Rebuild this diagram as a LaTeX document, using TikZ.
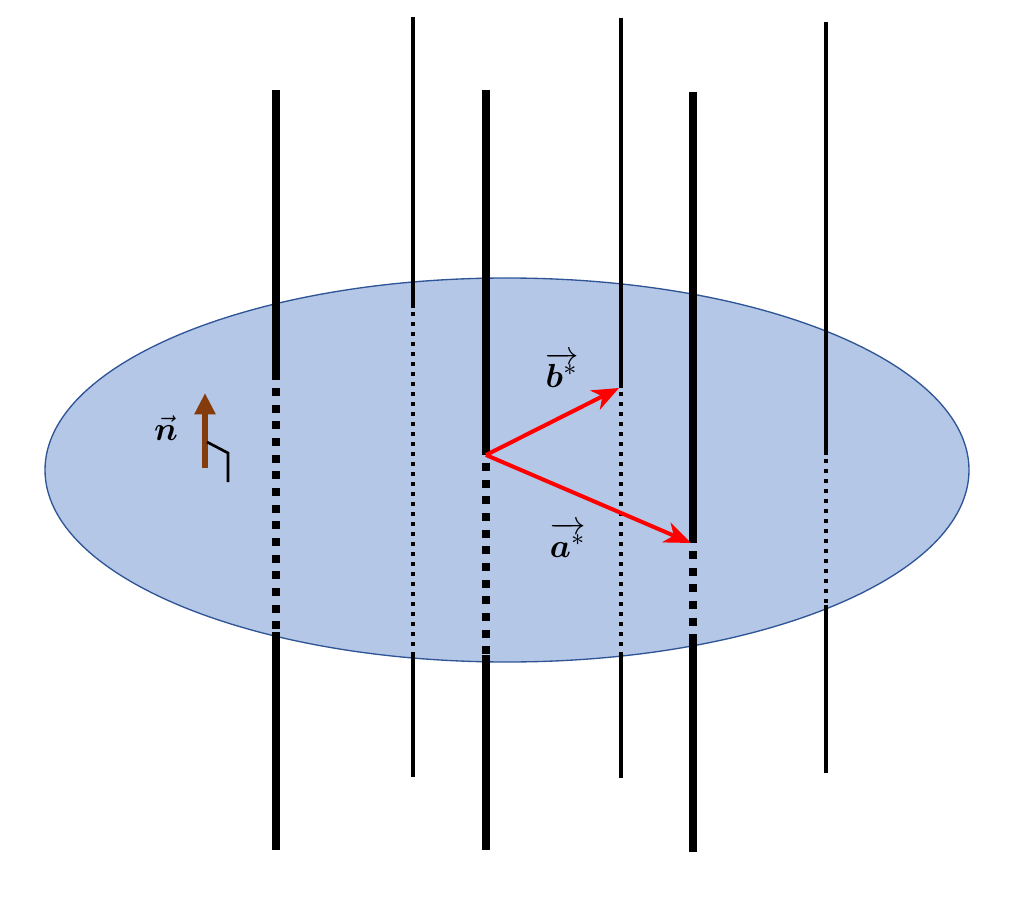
\documentclass[tikz,border=0pt]{standalone}
\usepackage{amsmath,bm}
\usetikzlibrary{arrows.meta}
\definecolor{brn}{RGB}{132,60,12}
\definecolor{fillb}{RGB}{180,199,231}
\definecolor{edgeb}{RGB}{47,85,151}
\begin{document}
\begin{tikzpicture}[x=0.75pt,y=-0.75pt,
 thk/.style={line width=6pt},
 thn/.style={line width=2.6pt},
 thkd/.style={line width=6pt,dash pattern=on 6pt off 6.5pt},
 thnd/.style={line width=2.6pt,dash pattern=on 3pt off 4.5pt},
 vec/.style={red,line width=3pt,-{Stealth[length=20pt,width=16pt,inset=6pt]}},
 lbl/.style={scale=2.5}]
\useasboundingbox (0,0) rectangle (1024,898);
\draw[fill=fillb,draw=edgeb,line width=1pt] (507,470) ellipse [x radius=462, y radius=192];
% thick lines
\foreach \x/\t/\a/\b/\e in {276/90/380/632/850, 486/90/455/655/850, 693/92/543/640/852}{
 \draw[thk] (\x,\t) -- (\x,\a);
 \draw[thkd] (\x,\a+8) -- (\x,\b);
 \draw[thk] (\x,\b) -- (\x,\e);
}
\foreach \x/\t/\a/\b/\e in {413/17/308/652/777, 621/18/388/652/778, 826/22/455/605/773}{
 \draw[thn] (\x,\t) -- (\x,\a);
 \draw[thnd] (\x,\a+4) -- (\x,\b);
 \draw[thn] (\x,\b) -- (\x,\e);
}
\coordinate (o) at (486,455);
\coordinate (b) at (619,388);
\coordinate (a) at (691,543);
\draw[vec] (o) -- (b);
\draw[vec] (o) -- (a);
\node[lbl] (lb) at (562,370) {$\overrightarrow{\bm{b}^{*}}$};
\node[lbl] (la) at (568,540) {$\overrightarrow{\bm{a}^{*}}$};
\node[lbl] (ln) at (166,428) {$\vec{\bm{n}}$};
\coordinate (n0) at (205,468);
\coordinate (n1) at (205,393);
\draw[line width=5pt,brn,-{Triangle[length=16pt,width=15pt]}] (n0) -- (n1);
\draw[line width=2pt] (207,442) -- (228,453) -- (228,482);
\end{tikzpicture}
\end{document}
